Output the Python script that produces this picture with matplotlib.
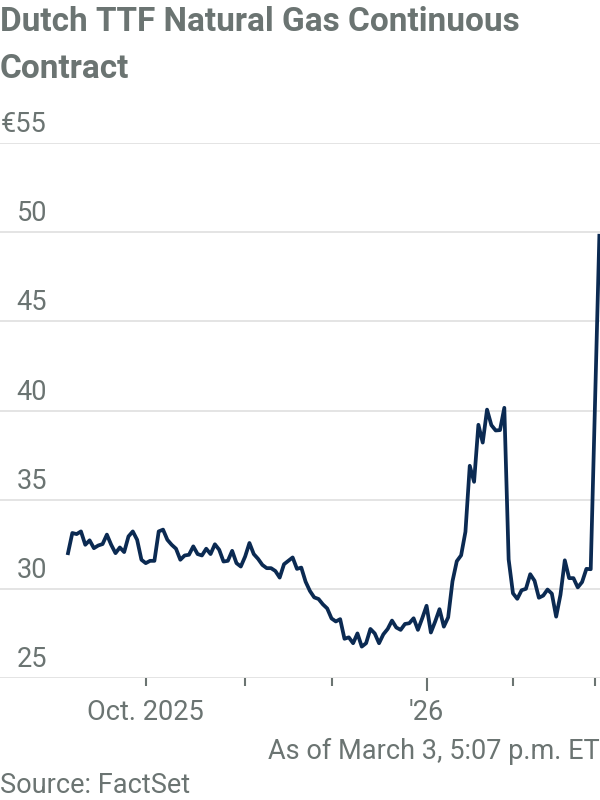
import numpy as np
import pandas as pd
import matplotlib
matplotlib.use("Agg")
import matplotlib.pyplot as plt

# trading calendar used on the chart (weekdays minus a few holidays)
holidays = ["2025-12-25", "2026-01-01", "2026-01-19", "2026-02-16"]
dates = pd.bdate_range("2025-09-05", "2026-03-03", freq="C", holidays=holidays)

# settlement prices, EUR/MWh (no print on Mar 2)
prices = [
    32.0, 33.13, 33.07, 33.22, 32.47, 32.72, 32.28, 32.43, 32.51, 33.04,
    32.47, 32.0, 32.32, 32.06, 32.94, 33.22, 32.75, 31.63, 31.44, 31.57,
    31.57, 33.22, 33.32, 32.75, 32.47, 32.25, 31.63, 31.87, 31.91, 32.38,
    31.95, 31.87, 32.25, 31.95, 32.5, 32.19, 31.53, 31.57, 32.13, 31.44,
    31.25, 31.81, 32.57, 31.95, 31.68, 31.34, 31.16, 31.16, 31.0, 30.63,
    31.38, 31.57, 31.76, 31.12, 31.19, 30.4, 29.88, 29.52, 29.43, 29.13,
    28.9, 28.34, 28.17, 28.3, 27.2, 27.28, 26.95, 27.5, 26.76, 26.95,
    27.75, 27.5, 26.95, 27.45, 27.75, 28.22, 27.83, 27.7, 28.03, 28.07,
    28.35, 27.7, 28.35, 29.05, 27.55, 28.17, 28.86, 27.88, 28.4, 30.42,
    31.55, 31.88, 33.2, 36.9, 36.0, 39.2, 38.2, 40.05, 39.18, 38.88,
    38.9, 40.15, 31.65, 29.75, 29.44, 29.92, 30.0, 30.82, 30.45, 29.5,
    29.62, 29.96, 29.73, 28.44, 29.67, 31.6, 30.6, 30.6, 30.08, 30.38,
    31.12, 31.1, np.nan, 49.8,
]

y_ticks = [25, 30, 35, 40, 45, 50, 55]
y_labels = ["25", "30", "35", "40", "45", "50", "€55"]
month_ticks = ["2025-10", "2025-11", "2025-12", "2026-01", "2026-02", "2026-03"]
month_labels = ["Oct. 2025", "", "", "'26", "", ""]

GRAY = "#6b7472"
GRID = "#e2e2e2"
LINE = "#0b2a52"

plt.rcParams["font.family"] = ["Roboto", "DejaVu Sans"]

fig = plt.figure(figsize=(6, 8), dpi=100)
ax = fig.add_axes([0, (800 - 678) / 800, 1, (678 - 143) / 800])

x = np.arange(len(dates))
v = np.array(prices, dtype=float)
ok = ~np.isnan(v)
ax.plot(x[ok], v[ok], color=LINE, lw=2.7, solid_joinstyle="round", zorder=3)

ax.set_ylim(25, 55)
ax.set_xlim(-68 / 4.32, 532 / 4.32)

for yv in y_ticks:
    ax.axhline(yv, color=GRID, lw=1.3, zorder=1)
for yv, lab in zip(y_ticks, y_labels):
    ax.annotate(lab, xy=(47 / 600, yv), xycoords=("axes fraction", "data"),
                xytext=(0, 3.5), textcoords="offset points",
                ha="right", va="bottom", fontsize=19.5, color=GRAY)

ax.set_yticks([])
for s in ax.spines.values():
    s.set_visible(False)

month_pos = [int(np.argmax(dates.strftime("%Y-%m") == m)) for m in month_ticks]
ax.set_xticks(month_pos)
ax.set_xticklabels(month_labels)
ax.tick_params(axis="x", length=6, width=1.5, color=GRAY, pad=9,
               labelsize=19.5, labelcolor=GRAY)
# year tick is longer
ax.xaxis.get_major_ticks()[3].tick1line.set_markersize(9.5)

fig.text(0, 1 - 6 / 800, "Dutch TTF Natural Gas Continuous\nContract",
         ha="left", va="top", fontsize=24, fontweight="bold", color=GRAY,
         linespacing=1.58)
fig.text(1, 1 - 759 / 800, "As of March 3, 5:07 p.m. ET", ha="right",
         va="baseline", fontsize=19.5, color=GRAY)
fig.text(0, 1 - 793 / 800, "Source: FactSet", ha="left", va="baseline",
         fontsize=19.5, color=GRAY)

fig.savefig("out.png", dpi=100)
